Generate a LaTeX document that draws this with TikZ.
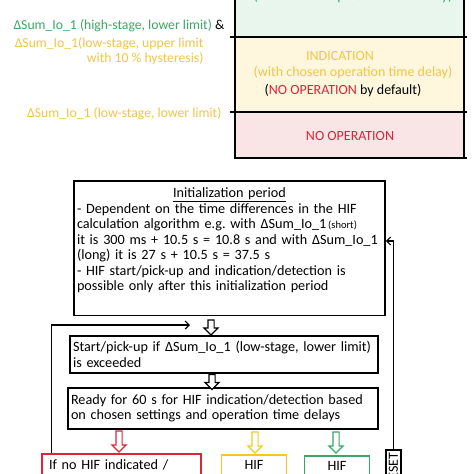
\documentclass[tikz,border=0pt]{standalone}
\usepackage{fontspec}
\setmainfont{Carlito}
\usetikzlibrary{shapes.arrows,arrows.meta}
\definecolor{hifgreen}{RGB}{58,168,100}
\definecolor{hifgold}{RGB}{240,198,72}
\definecolor{hifyellow}{RGB}{245,200,30}
\definecolor{hifred}{RGB}{218,38,58}
\definecolor{bandgreen}{RGB}{232,246,238}
\definecolor{bandyellow}{RGB}{255,246,222}
\definecolor{bandred}{RGB}{249,228,230}
\frenchspacing
\begin{document}
\begin{tikzpicture}[x=1pt, y=-1pt,
        tableline/.style={line width=1.4pt},
        bandtext/.style={font=\fontsize{14}{15}\selectfont},
        limit/.style={anchor=east, align=right, font=\fontsize{13.7}{15}\selectfont},
        flowbox/.style={draw, line width=1.5pt, align=left, inner xsep=3pt, font=\fontsize{14.2}{15.5}\selectfont},
        outbox/.style={draw, line width=1.5pt, anchor=north, inner ysep=6pt, text depth=30pt, font=\fontsize{14.2}{15.5}\selectfont},
        hollow/.style={single arrow, draw, line width=1.2pt, fill=white, minimum height=15pt, minimum width=14pt, single arrow head extend=4pt, inner sep=2.5pt, shape border rotate=270},
        arrow/.style={-{Straight Barb[length=4pt, width=8pt]}, line width=1.2pt}
    ]
    \fill[white] (0,0) rectangle (474,474);
    \useasboundingbox (0,0) rectangle (474,474);

    % limit table
    \fill[bandgreen] (235,-5) rectangle (464,37);
    \fill[bandyellow] (235,37) rectangle (464,112);
    \fill[bandred] (235,112) rectangle (464,158);
    \draw[tableline] (235,-5) -- (235,158) -- (467,158);
    \draw[tableline] (464,-5) -- (464,158);
    \draw[tableline] (230,37) -- (467,37);
    \draw[tableline] (230,112) -- (467,112);

    \node[bandtext, text=hifgreen] (opdelay) at (353,-3) {(with chosen operation time delay)};
    \node[bandtext, text=hifgold] (indic) at (340,56) {INDICATION};
    \node[bandtext, text=hifgold] (inddelay) at (353,73) {(with chosen operation time delay)};
    \node[bandtext] (bydefault) at (343,91) {(\textcolor{hifred}{NO OPERATION} by default)};
    \node[bandtext, text=hifred] (noop) at (350,136) {NO OPERATION};

    \node[limit] (highlim) at (228,26) {\textcolor{hifgreen}{ΔSum\_Io\_1 (high-stage, lower limit)} \&};
    \node[limit, text=hifgold] (uplim) at (207,51) {ΔSum\_Io\_1(low-stage, upper limit\\with 10 \% hysteresis)};
    \node[limit, text=hifgold] (lowlim) at (225,114) {ΔSum\_Io\_1 (low-stage, lower limit)};

    % flow chart
    \node[flowbox, text width=305pt, anchor=north, inner ysep=7pt, text depth=111pt] (init) at (229.5,180) {\makebox[\linewidth]{\underline{Initialization period}}\\
        - Dependent on the time differences in the HIF\\
        calculation algorithm e.g. with ΔSum\_Io\_1{\fontsize{10.5}{10}\selectfont\,(short)}\\
        it is 300 ms + 10.5 s = 10.8 s and with ΔSum\_Io\_1\\
        (long) it is 27 s + 10.5 s = 37.5 s\\
        - HIF start/pick-up and indication/detection is\\
        possible only after this initialization period};
    \node[flowbox, text width=302pt, minimum height=37pt] (pickup) at (224,354.5) {Start/pick-up if ΔSum\_Io\_1 (low-stage, lower limit)\\is exceeded};
    \node[flowbox, text width=304pt, minimum height=41pt] (ready) at (223,408.5) {Ready for 60 s for HIF indication/detection based\\on chosen settings and operation time delays};

    \node[outbox, draw=hifred, text width=145pt, inner xsep=7pt, align=left] (nohif) at (121.5,453) {If no HIF indicated /};
    \node[outbox, draw=hifyellow, text width=58pt, align=center] (hifind) at (254,454) {HIF};
    \node[outbox, draw=hifgreen, text width=58pt, align=center] (hifdet) at (337,455) {HIF};
    \node[draw, line width=1.5pt, rotate=90, anchor=east, inner sep=3pt, font=\fontsize{14}{14}\selectfont] (reset) at (393.5,449) {RESET};

    \node[hollow] (step1) at (211,326) {};
    \node[hollow] (step2) at (212,380.5) {};
    \node[hollow, draw=hifred, minimum height=21pt] (tored) at (119,440) {};
    \node[hollow, draw=hifyellow, minimum height=21pt] (toyellow) at (255,441) {};
    \node[hollow, draw=hifgreen, minimum height=21pt] (togreen) at (336,441) {};

    \coordinate (loopin) at (190,325);
    \draw[arrow] ([xshift=10pt]nohif.north west) |- (loopin);
    \draw[arrow] (reset.east) |- (init.east |- 0,241);

\end{tikzpicture}
\end{document}
